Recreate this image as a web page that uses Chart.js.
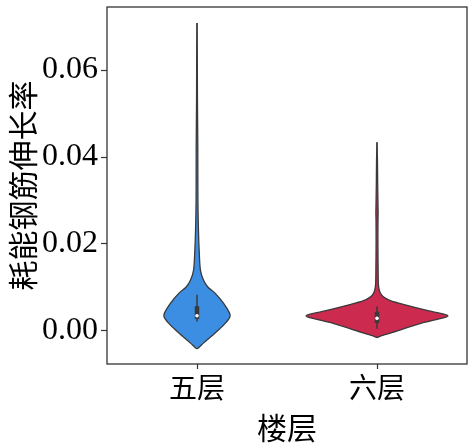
<!DOCTYPE html>
<html><head><meta charset="utf-8">
<script src="https://cdn.jsdelivr.net/npm/chart.js@4.4.1/dist/chart.umd.min.js"></script>
<style>html,body{margin:0;padding:0;background:#fff}canvas{display:block}</style>
</head><body>
<canvas id="c" width="474" height="444"></canvas>
<script>
const categories = ['五层', '六层'];
const yTickValues = [0, 0.02, 0.04, 0.06];
const yTitle = '耗能钢筋伸长率';
const xTitle = '楼层';

// violin outlines: value levels and half-widths (category units)
const blueLevels = [-0.0041, -0.0039, -0.0028, -0.0014, 0.0002, 0.0018, 0.0032, 0.0041, 0.0064, 0.0087, 0.0101, 0.0117, 0.0140, 0.0186, 0.0232, 0.0301, 0.0416, 0.0531, 0.0646, 0.0708];
const blueHalfWidth = [0, 0.008, 0.036, 0.075, 0.119, 0.158, 0.183, 0.181, 0.147, 0.100, 0.060, 0.036, 0.019, 0.012, 0.008, 0.005, 0.0045, 0.0025, 0.0015, 0];
const redLevels = [-0.00154, -0.00115, 0.00007, 0.00177, 0.0030, 0.00345, 0.0039, 0.00467, 0.0060, 0.0069, 0.0076, 0.0083, 0.0092, 0.0106, 0.0140, 0.0209, 0.0255, 0.0271, 0.0290, 0.0336, 0.0393, 0.0434];
const redHalfWidth = [0, 0.022, 0.117, 0.244, 0.367, 0.394, 0.367, 0.283, 0.156, 0.078, 0.044, 0.025, 0.014, 0.008, 0.0062, 0.005, 0.0055, 0.0062, 0.0055, 0.0038, 0.0025, 0];

// inner box: [lower whisker, Q1, median, Q3, upper whisker]
const blueBox = [0.0022, 0.0028, 0.0035, 0.0057, 0.0083];
const redBox = [0.0005, 0.0018, 0.0029, 0.0044, 0.0056];

const violinColors = ['#3b8ee2', '#cc2a4f'];
const edgeColor = '#3a3a3a';

function violinSets(levels, half, c, color) {
  const left = levels.map((v, i) => ({x: c - half[i], y: v}));
  const right = levels.map((v, i) => ({x: c + half[i], y: v}));
  return [
    {data: left, borderColor: edgeColor, borderWidth: 1.3, pointRadius: 0, fill: false, tension: 0.3, order: 3},
    {data: right, borderColor: edgeColor, borderWidth: 1.3, pointRadius: 0, fill: '-1', backgroundColor: color, tension: 0.3, order: 3}
  ];
}
function boxSets(b, c) {
  return [
    {data: [{x: c, y: b[0]}, {x: c, y: b[4]}], borderColor: edgeColor, borderWidth: 1.5, pointRadius: 0, fill: false, order: 2},
    {data: [{x: c, y: b[1]}, {x: c, y: b[3]}], borderColor: edgeColor, borderWidth: 4.5, borderCapStyle: 'butt', pointRadius: 0, fill: false, order: 1},
    {data: [{x: c, y: b[2]}], showLine: false, pointRadius: 1.8, pointBackgroundColor: '#ffffff', pointBorderWidth: 0, pointBorderColor: '#ffffff', fill: false, order: 0}
  ];
}

const datasets = [
  ...violinSets(blueLevels, blueHalfWidth, 0, violinColors[0]),
  ...violinSets(redLevels, redHalfWidth, 1, violinColors[1]),
  ...boxSets(blueBox, 0),
  ...boxSets(redBox, 1)
];

const frame = {
  id: 'frame',
  beforeDatasetsDraw(chart) {
    const {ctx, chartArea: a} = chart;
    ctx.save();
    ctx.strokeStyle = '#333';
    ctx.lineWidth = 1.3;
    ctx.strokeRect(a.left, a.top, a.right - a.left, a.bottom - a.top);
    ctx.restore();
  }
};

const cjk = '"Noto Sans CJK SC", "Noto Sans CJK JP", sans-serif';
new Chart(document.getElementById('c'), {
  type: 'line',
  data: {datasets},
  options: {
    indexAxis: 'y',
    responsive: false,
    animation: false,
    layout: {padding: {top: 7, right: 7, left: 0, bottom: 0}},
    plugins: {legend: {display: false}, tooltip: {enabled: false}},
    scales: {
      x: {
        type: 'linear', min: -0.5, max: 1.5, position: 'bottom',
        afterBuildTicks: s => { s.ticks = categories.map((_, i) => ({value: i})); },
        ticks: {callback: v => categories[v] ?? '', font: {family: cjk, size: 28}, color: '#000', padding: 2, maxRotation: 0, autoSkip: false},
        grid: {drawOnChartArea: false, tickLength: 5, color: '#333', tickWidth: 1.2},
        border: {display: false},
        title: {display: true, text: xTitle, font: {family: cjk, size: 30, lineHeight: 1}, color: '#000', padding: {top: 0, bottom: 1}},
        afterFit: s => { s.height = 80; s.paddingLeft = 0; s.paddingRight = 0; }
      },
      y: {
        type: 'linear', min: -0.0076, max: 0.0745,
        afterBuildTicks: s => { s.ticks = yTickValues.map(v => ({value: v})); },
        ticks: {callback: v => v.toFixed(2), font: {family: '"Liberation Serif"', size: 32}, color: '#000', padding: 3},
        grid: {drawOnChartArea: false, tickLength: 6, color: '#333', tickWidth: 1.2},
        border: {display: false},
        title: {display: true, text: yTitle, font: {family: cjk, size: 30, lineHeight: 1.2}, color: '#000', padding: {top: 5, bottom: 0}},
        afterFit: s => { s.width = 107; s.paddingTop = 0; s.paddingBottom = 0; }
      }
    }
  },
  plugins: [frame]
});
</script>
</body></html>
